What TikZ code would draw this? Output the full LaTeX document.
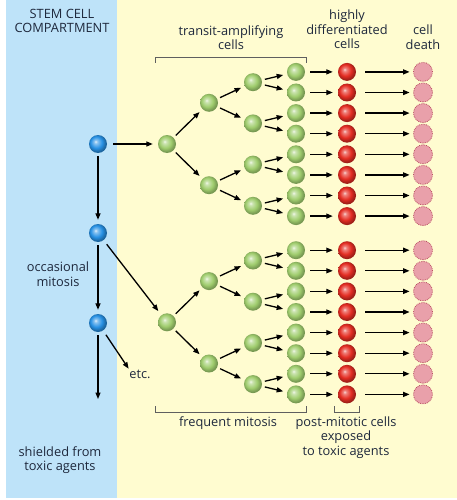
\documentclass[tikz,border=0pt]{standalone}
\usepackage{fontspec}
\setmainfont{Open Sans}
\usepackage{tikz}
\usetikzlibrary{arrows.meta}
\definecolor{panelblue}{RGB}{190,227,249}
\definecolor{panelyellow}{RGB}{255,252,208}
\definecolor{stemblue}{RGB}{40,145,228}
\definecolor{tagreen}{RGB}{160,205,110}
\definecolor{diffred}{RGB}{228,45,35}
\definecolor{deadpink}{RGB}{233,160,170}
\definecolor{deadrim}{RGB}{185,80,100}
\definecolor{txtcol}{RGB}{30,40,60}
\definecolor{bracegray}{RGB}{95,95,95}
\pgfdeclareradialshading{stemball}{\pgfqpoint{-7bp}{7bp}}{color(0bp)=(white!85!stemblue); color(5bp)=(white!45!stemblue); color(16bp)=(stemblue); color(25bp)=(stemblue!70!black); color(50bp)=(stemblue!60!black)}
\pgfdeclareradialshading{greenball}{\pgfqpoint{-7bp}{7bp}}{color(0bp)=(white!85!tagreen); color(5bp)=(white!45!tagreen); color(16bp)=(tagreen); color(25bp)=(tagreen!75!black); color(50bp)=(tagreen!60!black)}
\pgfdeclareradialshading{redball}{\pgfqpoint{-7bp}{7bp}}{color(0bp)=(white!80!diffred); color(5bp)=(white!40!diffred); color(16bp)=(diffred); color(25bp)=(diffred!70!black); color(50bp)=(diffred!60!black)}
\tikzstyle{stemcell} = [circle, minimum size=18pt, inner sep=0pt, shading=stemball]
\tikzstyle{tacell} = [circle, minimum size=18pt, inner sep=0pt, shading=greenball]
\tikzstyle{diffcell} = [circle, minimum size=18pt, inner sep=0pt, shading=redball]
\tikzstyle{deadcell} = [circle, minimum size=19pt, inner sep=0pt, fill=deadpink, draw=deadrim, densely dotted, line width=0.8pt]
\tikzstyle{arr} = [-{Triangle[length=6.5pt,width=5pt]}, line width=1.3pt, shorten <=3pt, shorten >=4pt]
\tikzstyle{lbl} = [text=txtcol, align=center, inner sep=0pt, font=\fontsize{12.8}{14.5}\selectfont]
\tikzstyle{brace} = [draw=bracegray, line width=0.9pt]

\begin{document}
\begin{tikzpicture}[x=1pt, y=-1pt]
		\useasboundingbox (0,0) rectangle (457,500);
		\fill[panelblue] (6,0) rectangle (117,498);
		\fill[panelyellow] (117,0) rectangle (457,498);

		% stem cell compartment
		\node [stemcell] (s1) at (98,144) {};
		\node [stemcell] (s2) at (98,233) {};
		\node [stemcell] (s3) at (98,323) {};
		\coordinate (send) at (98,399);
		\node [lbl] (etc) at (140,374) {etc.};

		% two lineages: transit-amplifying, differentiated, dead
		\foreach \tr/\yc in {a/144,b/322.3}{
			\node [tacell] (\tr1) at (167,\yc) {};
			\foreach \n in {2,3}
				\node [tacell] (\tr\n) at (209,{\yc+(\n-2.5)*82.4}) {};
			\foreach \n in {4,...,7}
				\node [tacell] (\tr\n) at (253,{\yc+(\n-5.5)*41.2}) {};
			\foreach \n in {8,...,15}{
				\node [tacell] (\tr\n) at (296,{\yc+(\n-11.5)*20.6}) {};
				\node [diffcell] (r\tr\n) at (347,{\yc+(\n-11.5)*20.6}) {};
				\node [deadcell] (d\tr\n) at (423,{\yc+(\n-11.5)*20.6}) {};
				\draw [arr, shorten <=5pt, shorten >=5pt] (\tr\n) -- (r\tr\n);
				\draw [arr, shorten <=9pt, shorten >=3.5pt] (r\tr\n) -- (d\tr\n);
			}
			\foreach \n [evaluate=\n as \c using int(2*\n), evaluate=\n as \d using int(2*\n+1)] in {1,...,7}{
				\draw [arr] (\tr\n) -- (\tr\c);
				\draw [arr] (\tr\n) -- (\tr\d);
			}
		}

		\draw [arr, shorten <=6pt, shorten >=5pt] (s1) -- (a1);
		\draw [arr] (s1) -- (s2);
		\draw [arr] (s2) -- (s3);
		\draw [arr, shorten >=0pt] (s3) -- (send);
		\draw [arr, shorten <=5pt, shorten >=5pt] (s2) -- (b1);
		\draw [arr, shorten <=5pt, shorten >=1pt] (s3) -- (etc.north west);

		% brackets
		\draw [brace] (155,63) -- (155,57) -- (306,57) -- (306,63);
		\draw [brace] (155,406) -- (155,412) -- (306,412) -- (306,406);
		\draw [brace] (334,406) -- (334,412) -- (359,412) -- (359,406);

		% labels
		\node [lbl] (stemlbl) at (62,21) {STEM CELL\\COMPARTMENT};
		\node [lbl] (talbl) at (231,37.5) {transit-amplifying\\cells};
		\node [lbl] (difflbl) at (347,29.5) {highly\\differentiated\\cells};
		\node [lbl] (deathlbl) at (423,37) {cell\\death};
		\node [lbl] (occlbl) at (58,274) {occasional\\mitosis};
		\node [lbl] (freqlbl) at (228,423) {frequent mitosis};
		\node [lbl] (postlbl) at (346,437.5) {post-mitotic cells\\exposed\\to toxic agents};
		\node [lbl] (shieldlbl) at (60,460) {shielded from\\toxic agents};
	\end{tikzpicture}
\end{document}
